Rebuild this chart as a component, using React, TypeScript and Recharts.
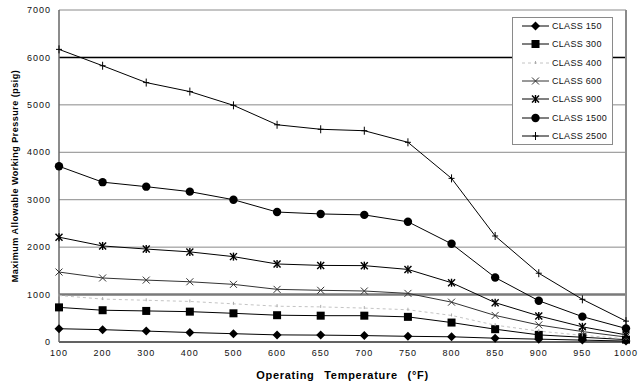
import React from 'react';
import {
  LineChart,
  Line,
  XAxis,
  YAxis,
  CartesianGrid,
  ReferenceLine,
  Legend
} from 'recharts';

const TEMPS = [100, 200, 300, 400, 500, 600, 650, 700, 750, 800, 850, 900, 950, 1000];
const Y_TICKS = [0, 1000, 2000, 3000, 4000, 5000, 6000, 7000];

const CLASS_150 = [280, 260, 230, 200, 175, 150, 145, 135, 120, 110, 80, 60, 40, 20];
const CLASS_300 = [730, 670, 655, 640, 605, 565, 555, 555, 530, 410, 270, 150, 100, 50];
const CLASS_400 = [980, 905, 880, 855, 805, 755, 740, 715, 680, 560, 355, 230, 140, 70];
const CLASS_600 = [1475, 1350, 1305, 1270, 1215, 1110, 1090, 1075, 1025, 840, 560, 360, 220, 105];
const CLASS_900 = [2210, 2025, 1960, 1900, 1800, 1645, 1615, 1610, 1530, 1250, 830, 550, 320, 150];
const CLASS_1500 = [3705, 3370, 3275, 3170, 3000, 2740, 2700, 2680, 2535, 2070, 1360, 870, 535, 285];
const CLASS_2500 = [6170, 5825, 5470, 5280, 4990, 4580, 4485, 4455, 4210, 3450, 2235, 1450, 900, 440];

type Marker = 'diamond' | 'square' | 'tick' | 'x' | 'star' | 'circle' | 'plus';

const SERIES: { key: string; name: string; values: number[]; marker: Marker; color: string; dash?: string }[] = [
  { key: 'c150', name: 'CLASS 150', values: CLASS_150, marker: 'diamond', color: '#000' },
  { key: 'c300', name: 'CLASS 300', values: CLASS_300, marker: 'square', color: '#000' },
  { key: 'c400', name: 'CLASS 400', values: CLASS_400, marker: 'tick', color: '#c4c4c4', dash: '3 3' },
  { key: 'c600', name: 'CLASS 600', values: CLASS_600, marker: 'x', color: '#333' },
  { key: 'c900', name: 'CLASS 900', values: CLASS_900, marker: 'star', color: '#000' },
  { key: 'c1500', name: 'CLASS 1500', values: CLASS_1500, marker: 'circle', color: '#000' },
  { key: 'c2500', name: 'CLASS 2500', values: CLASS_2500, marker: 'plus', color: '#000' }
];

const data = TEMPS.map((t, i) => {
  const row: Record<string, number> = { temp: t };
  SERIES.forEach((s) => {
    row[s.key] = s.values[i];
  });
  return row;
});

const FONT = '"Liberation Sans", Arial, Helvetica, sans-serif';

function drawMarker(kind: Marker, cx: number, cy: number, color: string) {
  switch (kind) {
    case 'diamond':
      return <polygon points={`${cx},${cy - 4.5} ${cx + 4.5},${cy} ${cx},${cy + 4.5} ${cx - 4.5},${cy}`} fill="#000" />;
    case 'square':
      return <rect x={cx - 4} y={cy - 4} width={8} height={8} fill="#000" />;
    case 'tick':
      return <line x1={cx} y1={cy - 2} x2={cx} y2={cy + 1} stroke="#aaa" strokeWidth={1} />;
    case 'x':
      return (
        <g stroke={color} strokeWidth={1}>
          <line x1={cx - 3.5} y1={cy - 3.5} x2={cx + 3.5} y2={cy + 3.5} />
          <line x1={cx - 3.5} y1={cy + 3.5} x2={cx + 3.5} y2={cy - 3.5} />
        </g>
      );
    case 'star':
      return (
        <g stroke="#000" strokeWidth={1.4}>
          <line x1={cx - 3.5} y1={cy - 3.5} x2={cx + 3.5} y2={cy + 3.5} />
          <line x1={cx - 3.5} y1={cy + 3.5} x2={cx + 3.5} y2={cy - 3.5} />
          <line x1={cx} y1={cy - 4} x2={cx} y2={cy + 4} />
        </g>
      );
    case 'circle':
      return <circle cx={cx} cy={cy} r={4.2} fill="#000" />;
    case 'plus':
      return (
        <g stroke="#000" strokeWidth={1}>
          <line x1={cx} y1={cy - 4} x2={cx} y2={cy + 4} />
          <line x1={cx - 3} y1={cy} x2={cx + 3} y2={cy} />
        </g>
      );
  }
  return null;
}

const LegendBox = () => (
  <div
    style={{
      width: 99,
      height: 126,
      border: '1px solid #8a8a8a',
      background: '#fff',
      boxSizing: 'content-box'
    }}
  >
    {SERIES.map((s, i) => (
      <div key={s.key} style={{ position: 'absolute', left: 0, top: 2 + i * 18.3, height: 14, display: 'flex', alignItems: 'center' }}>
        <svg width={40} height={14} style={{ display: 'block' }}>
          <line x1={10} y1={7} x2={37} y2={7} stroke={s.color} strokeWidth={1} strokeDasharray={s.dash} />
          {drawMarker(s.marker, 23.5, 7, s.color)}
        </svg>
        <span style={{ fontFamily: FONT, fontSize: 9, letterSpacing: 0.3, color: '#111', whiteSpace: 'nowrap' }}>
          {s.name}
        </span>
      </div>
    ))}
  </div>
);

export default function App() {
  return (
    <div style={{ width: 643, height: 387, background: '#fff', position: 'relative' }}>
      <style>{`body{margin:0;background:#fff}`}</style>
      <LineChart width={643} height={387} data={data} margin={{ top: 10, right: 17, left: 0, bottom: 0 }}>
        <CartesianGrid vertical={false} stroke="#8a8a8a" />
        <ReferenceLine y={1000} stroke="#7a7a7a" strokeWidth={2.5} />
        <ReferenceLine y={6000} stroke="#000" strokeWidth={1.5} />
        <ReferenceLine x={1000} stroke="#8a8a8a" strokeWidth={2} />
        <XAxis
          dataKey="temp"
          height={45}
          tickLine={false}
          axisLine={{ stroke: '#000', strokeWidth: 1 }}
          tick={{ fontFamily: FONT, fontSize: 9, letterSpacing: 1, fill: '#111' }}
          interval={0}
          label={{
            value: 'Operating  Temperature  (°F)',
            position: 'insideBottom',
            offset: 8,
            style: { fontFamily: FONT, fontSize: 11, fontWeight: 'bold', letterSpacing: 0.7, wordSpacing: 6, fill: '#000', whiteSpace: 'pre' }
          }}
        />
        <YAxis
          width={59}
          domain={[0, 7000]}
          ticks={Y_TICKS}
          interval={0}
          tickLine={false}
          axisLine={{ stroke: '#666', strokeWidth: 1.5 }}
          tick={{ fontFamily: FONT, fontSize: 9, letterSpacing: 1, fill: '#111' }}
          label={{
            value: 'Maximum Allowable Working Pressure (psig)',
            angle: -90,
            position: 'center',
            dx: -15,
            style: { fontFamily: FONT, fontSize: 9, fontWeight: 'bold', letterSpacing: 0.5, fill: '#000' }
          }}
        />
        <Legend
          layout="vertical"
          align="center"
          verticalAlign="middle"
          content={() => <LegendBox />}
          wrapperStyle={{ position: 'absolute', left: 512, top: 17, width: 101, height: 128 }}
        />
        {SERIES.map((s) => (
          <Line
            key={s.key}
            dataKey={s.key}
            name={s.name}
            stroke={s.color}
            strokeWidth={1}
            strokeDasharray={s.dash}
            isAnimationActive={false}
            dot={(p: any) => <g key={`${s.key}-${p.index}`}>{drawMarker(s.marker, p.cx, p.cy, s.color)}</g>}
            activeDot={false}
          />
        ))}
      </LineChart>
    </div>
  );
}
